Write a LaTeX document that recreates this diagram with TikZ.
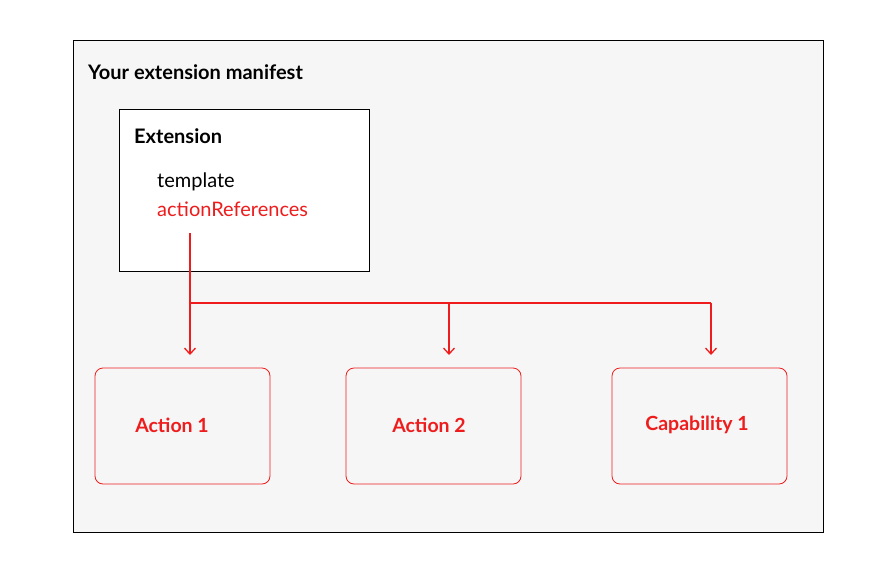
\documentclass[tikz,border=0pt]{standalone}
\usepackage{fontspec}
\setmainfont{Lato}
\usetikzlibrary{arrows.meta}
\definecolor{rd}{HTML}{EE1C1C}
\begin{document}
\begin{tikzpicture}[x=1pt,y=-1pt,
  box/.style={draw=rd,rounded corners=8pt,line width=0.8pt},
  lbl/.style={text=rd,font=\fontsize{19.5}{22}\selectfont\bfseries},
  ar/.style={draw=rd,line width=1.3pt,-{Straight Barb[length=6pt,width=11pt]}}]
\useasboundingbox (0,0) rectangle (891,573);
\draw[fill={rgb,255:red,246;green,246;blue,246},line width=0.6pt] (73,40) rectangle (823,532);
\node[anchor=west,inner sep=0pt,font=\fontsize{20}{22}\selectfont\bfseries] (title) at (88,72) {Your extension manifest};
\draw[fill=white,line width=0.8pt] (119,109) rectangle (369,271);
\node[anchor=west,inner sep=0pt,font=\fontsize{20}{22}\selectfont\bfseries] (ext) at (134,136) {Extension};
\node[anchor=west,inner sep=0pt,font=\fontsize{20}{22}\selectfont] (tmpl) at (157,182) {template};
\node[anchor=west,inner sep=0pt,font=\fontsize{20}{22}\selectfont,text=rd] (ar) at (157,209) {actionReferences};
\draw[box] (95,368) rectangle (270,484);
\draw[box] (346,368) rectangle (521,484);
\draw[box] (612,368) rectangle (787,484);
\node[lbl] (a1) at (172,425) {Action 1};
\node[lbl] (a2) at (429,425) {Action 2};
\node[lbl] (c1) at (697,425) {Capability 1};
\coordinate (s) at (190,233);
\coordinate (j) at (190,303);
\coordinate (e1) at (190,355);
\coordinate (e2) at (449,355);
\coordinate (e3) at (711,355);
\draw[draw=rd,line width=1.3pt] (j) -- (e3 |- j);
\draw[ar] (s) -- (e1);
\draw[ar] (e2 |- j) -- (e2);
\draw[ar] (e3 |- j) -- (e3);
\end{tikzpicture}
\end{document}
